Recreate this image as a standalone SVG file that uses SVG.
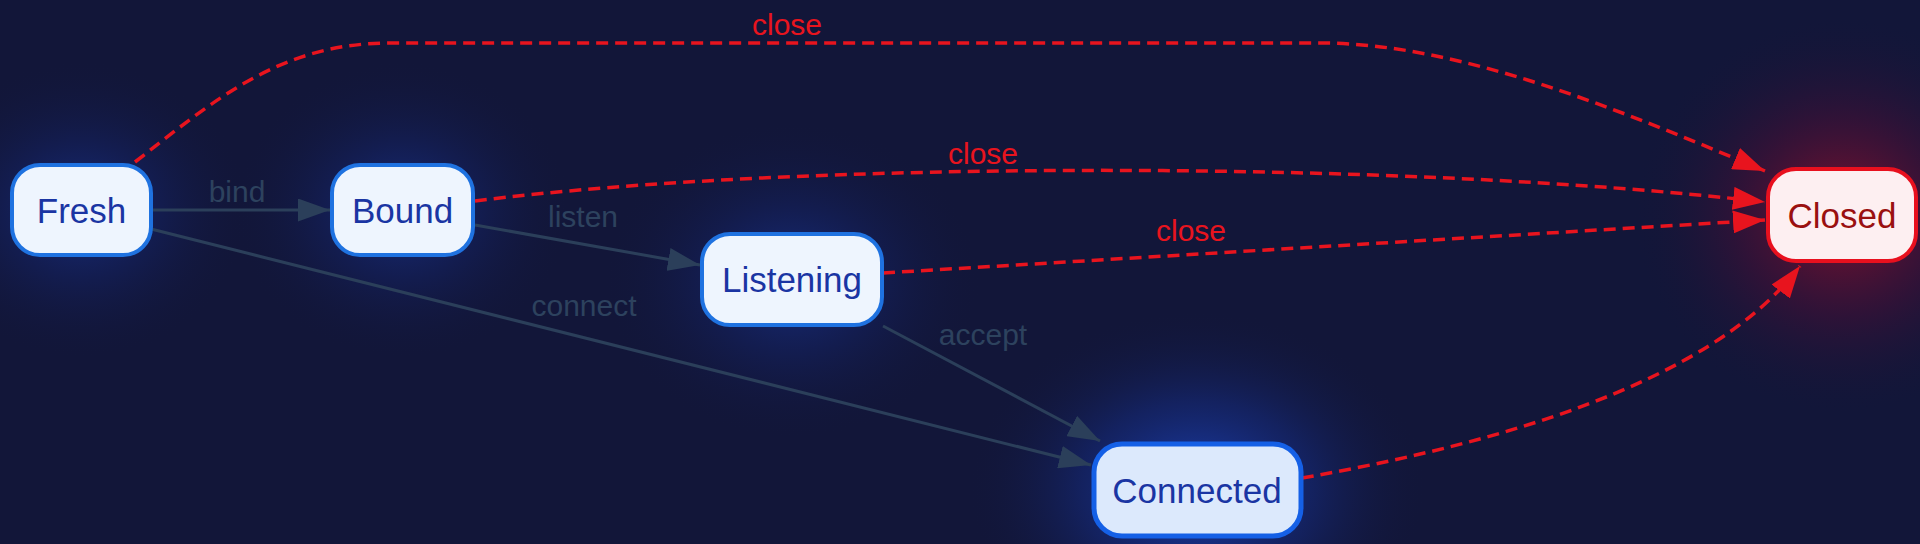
<svg xmlns="http://www.w3.org/2000/svg" width="1920" height="544" viewBox="0 0 1920 544">
<style>
.node rect{stroke-width:4}
.blue rect{fill:#eef5fe;stroke:#1f72e0}
.blue text{fill:#1a35a3}
.nt{font-family:"Liberation Sans",Arial,sans-serif;font-size:35px;text-anchor:middle}
.el{font-family:"Liberation Sans",Arial,sans-serif;font-size:30px;text-anchor:middle}
.gl{fill:#2d425e}
.rl{fill:#e8141e}
.ge{fill:none;stroke:#2b3f5a;stroke-width:3;marker-end:url(#ag)}
.re{fill:none;stroke:#e8141e;stroke-width:3.5;stroke-dasharray:12 7;marker-end:url(#ar)}
</style>
<defs>
<radialGradient id="gb">
<stop offset="0" stop-color="#1a3aa0" stop-opacity="0.7"/>
<stop offset="0.45" stop-color="#15297a" stop-opacity="0.35"/>
<stop offset="1" stop-color="#121639" stop-opacity="0"/>
</radialGradient>
<radialGradient id="gbs">
<stop offset="0" stop-color="#1d45c0" stop-opacity="0.9"/>
<stop offset="0.5" stop-color="#16308e" stop-opacity="0.45"/>
<stop offset="1" stop-color="#121639" stop-opacity="0"/>
</radialGradient>
<radialGradient id="gr">
<stop offset="0" stop-color="#a0102a" stop-opacity="0.8"/>
<stop offset="0.5" stop-color="#5a0d34" stop-opacity="0.4"/>
<stop offset="1" stop-color="#121639" stop-opacity="0"/>
</radialGradient>
<marker id="ag" markerUnits="userSpaceOnUse" markerWidth="32" markerHeight="23" refX="32" refY="11.5" orient="auto" viewBox="0 0 32 23">
<path d="M0,0 L32,11.5 L0,23 z" fill="#2b3f5a"/>
</marker>
<marker id="ar" markerUnits="userSpaceOnUse" markerWidth="32" markerHeight="23" refX="32" refY="11.5" orient="auto" viewBox="0 0 32 23">
<path d="M0,0 L32,11.5 L0,23 z" fill="#e8141e"/>
</marker>
</defs>
<rect width="1920" height="544" fill="#121639"/>
<g id="glows">
<ellipse cx="81" cy="210" rx="170" ry="150" fill="url(#gb)"/>
<ellipse cx="402" cy="210" rx="170" ry="150" fill="url(#gb)"/>
<ellipse cx="792" cy="280" rx="190" ry="160" fill="url(#gb)"/>
<ellipse cx="1197" cy="490" rx="230" ry="180" fill="url(#gbs)"/>
<ellipse cx="1842" cy="215" rx="210" ry="200" fill="url(#gr)"/>
</g>
<g id="connectors">
<path class="ge" d="M152,210 L330,210"/>
<path class="ge" d="M475,225 L700,265"/>
<path class="ge" d="M151,229 L1091,465"/>
<path class="ge" d="M883,326 L1100,441"/>
<path class="re" d="M135,162 C215,100 280,43 390,43 L1320,43 C1460,43 1620,110 1765,171"/>
<path class="re" d="M475,201 C800,160 1400,160 1765,202"/>
<path class="re" d="M883,273 L1765,220"/>
<path class="re" d="M1302,478 C1490,445 1710,385 1800,266"/>
<text class="el gl" x="237" y="202">bind</text>
<text class="el gl" x="583" y="227">listen</text>
<text class="el gl" x="584" y="316">connect</text>
<text class="el gl" x="983" y="345">accept</text>
<text class="el rl" x="787" y="35">close</text>
<text class="el rl" x="983" y="164">close</text>
<text class="el rl" x="1191" y="241">close</text>
</g>
<g id="fresh" class="node blue">
<rect x="12" y="165" width="139" height="90" rx="28"/>
<text class="nt" x="81.5" y="222.5">Fresh</text>
</g>
<g id="bound" class="node blue">
<rect x="332" y="165" width="141" height="90" rx="28"/>
<text class="nt" x="402.5" y="222.5">Bound</text>
</g>
<g id="listening" class="node blue">
<rect x="702" y="234" width="180" height="91" rx="28"/>
<text class="nt" x="792" y="292">Listening</text>
</g>
<g id="connected" class="node blue">
<rect x="1094" y="444" width="207" height="92" rx="28" style="fill:#dce9fc;stroke:#1560e6;stroke-width:5"/>
<text class="nt" x="1197" y="502.5">Connected</text>
</g>
<g id="closed" class="node">
<rect x="1768" y="169" width="148" height="92" rx="28" style="fill:#fdeff1;stroke:#e8101e"/>
<text class="nt" x="1842" y="227.5" fill="#9a1010">Closed</text>
</g>
</svg>
